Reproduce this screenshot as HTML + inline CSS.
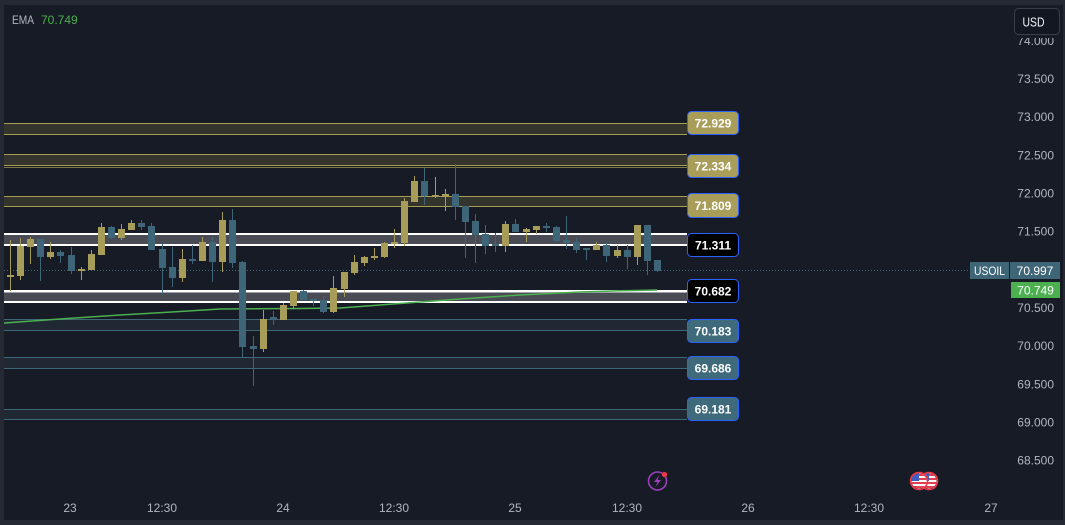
<!DOCTYPE html>
<html>
<head>
<meta charset="utf-8">
<style>
  html,body{margin:0;padding:0;background:#252934;}
  svg{display:block;}
  text{font-family:"Liberation Sans",sans-serif;}
</style>
</head>
<body>
<svg width="1065" height="525" viewBox="0 0 1065 525" xmlns="http://www.w3.org/2000/svg">
  <defs>
    <clipPath id="c1"><circle cx="929" cy="481" r="7.5"/></clipPath>
    <clipPath id="c2"><circle cx="919" cy="481" r="7.5"/></clipPath>
  </defs>
  <!-- frame -->
  <rect x="0" y="0" width="1065" height="525" fill="#252934"/>
  <rect x="4" y="5" width="1059" height="515" fill="#171b26"/>

  <!-- zones -->
  <g shape-rendering="crispEdges">
    <rect x="4" y="123" width="683" height="11" fill="#33342e"/>
    <rect x="4" y="123" width="683" height="1" fill="#a89e52"/>
    <rect x="4" y="134" width="683" height="1" fill="#a89e52"/>

    <rect x="4" y="154" width="683" height="12" fill="#33342e"/>
    <rect x="4" y="154" width="683" height="1" fill="#a89e52"/>
    <rect x="4" y="165" width="683" height="1" fill="#a89e52"/>
    <rect x="4" y="167" width="683" height="1" fill="#7d7645"/>

    <rect x="4" y="196" width="683" height="11" fill="#33342e"/>
    <rect x="4" y="196" width="683" height="1" fill="#a89e52"/>
    <rect x="4" y="206" width="683" height="1" fill="#a89e52"/>

    <rect x="4" y="233" width="683" height="12" fill="#4a4c55"/>
    <rect x="4" y="233" width="683" height="2" fill="#ffffff"/>
    <rect x="4" y="244" width="683" height="2" fill="#ffffff"/>

    <rect x="4" y="290" width="683" height="12" fill="#4a4c55"/>
    <rect x="4" y="290" width="683" height="2" fill="#ffffff"/>
    <rect x="4" y="292" width="683" height="1" fill="#a0a2a8"/>
    <rect x="4" y="301" width="683" height="2" fill="#ffffff"/>

    <rect x="4" y="319" width="683" height="12" fill="#1f2833"/>
    <rect x="4" y="319" width="683" height="1" fill="#3e6878"/>
    <rect x="4" y="330" width="683" height="1" fill="#3e6878"/>

    <rect x="4" y="357" width="683" height="12" fill="#1f2833"/>
    <rect x="4" y="357" width="683" height="1" fill="#3e6878"/>
    <rect x="4" y="368" width="683" height="1" fill="#3e6878"/>

    <rect x="4" y="409" width="683" height="11" fill="#1f2833"/>
    <rect x="4" y="409" width="683" height="1" fill="#3e6878"/>
    <rect x="4" y="419" width="683" height="1" fill="#3e6878"/>
  </g>

  <!-- dotted last price line -->
  <line x1="4" y1="270.5" x2="968" y2="270.5" stroke="#3f6677" stroke-width="1" stroke-dasharray="1 2"/>

  <!-- EMA -->
  <polyline fill="none" stroke="#4caf50" stroke-width="1.5" points="4,323 60,319 120,315 180,311.5 220,309 300,308.5 340,308 400,303.5 460,299 520,295 580,292 620,290.8 657,290"/>

  <!-- candles -->
  <g shape-rendering="crispEdges">
    <g fill="#a89d58">
      <rect x="10" y="240" width="1" height="51"/><rect x="7" y="275" width="7" height="2"/>
      <rect x="20" y="238" width="1" height="42"/><rect x="17" y="246" width="7" height="30"/>
      <rect x="30" y="237" width="1" height="27"/><rect x="27" y="239" width="7" height="8"/>
      <rect x="50" y="242" width="1" height="17"/><rect x="47" y="252" width="7" height="5"/>
      <rect x="81" y="267" width="1" height="13"/><rect x="78" y="269" width="7" height="2"/>
      <rect x="91" y="250" width="1" height="20"/><rect x="88" y="254" width="7" height="16"/>
      <rect x="101" y="223" width="1" height="32"/><rect x="98" y="227" width="7" height="28"/>
      <rect x="121" y="224" width="1" height="16"/><rect x="118" y="229" width="7" height="9"/>
      <rect x="131" y="220" width="1" height="10"/><rect x="128" y="223" width="7" height="7"/>
      <rect x="182" y="249" width="1" height="33"/><rect x="179" y="259" width="7" height="19"/>
      <rect x="202" y="237" width="1" height="24"/><rect x="199" y="242" width="7" height="19"/>
      <rect x="222" y="212" width="1" height="60"/><rect x="219" y="220" width="7" height="42"/>
      <rect x="263" y="310" width="1" height="42"/><rect x="260" y="319" width="7" height="30"/>
      <rect x="283" y="303" width="1" height="17"/><rect x="280" y="305" width="7" height="15"/>
      <rect x="293" y="291" width="1" height="18"/><rect x="290" y="291" width="7" height="15"/>
      <rect x="333" y="276" width="1" height="37"/><rect x="330" y="288" width="7" height="24"/>
      <rect x="344" y="272" width="1" height="25"/><rect x="341" y="272" width="7" height="17"/>
      <rect x="354" y="255" width="1" height="20"/><rect x="351" y="262" width="7" height="11"/>
      <rect x="364" y="256" width="1" height="10"/><rect x="361" y="257" width="7" height="6"/>
      <rect x="374" y="248" width="1" height="12"/><rect x="371" y="256" width="7" height="2"/>
      <rect x="384" y="242" width="1" height="16"/><rect x="381" y="243" width="7" height="14"/>
      <rect x="394" y="229" width="1" height="19"/><rect x="391" y="242" width="7" height="2"/>
      <rect x="404" y="198" width="1" height="48"/><rect x="401" y="201" width="7" height="42"/>
      <rect x="414" y="176" width="1" height="26"/><rect x="411" y="181" width="7" height="21"/>
      <rect x="435" y="177" width="1" height="21"/><rect x="432" y="195" width="7" height="2"/>
      <rect x="445" y="189" width="1" height="22"/><rect x="442" y="194" width="7" height="2"/>
      <rect x="505" y="221" width="1" height="31"/><rect x="502" y="224" width="7" height="22"/>
      <rect x="526" y="228" width="1" height="14"/><rect x="523" y="229" width="7" height="3"/>
      <rect x="536" y="226" width="1" height="8"/><rect x="533" y="226" width="7" height="4"/>
      <rect x="596" y="242" width="1" height="8"/><rect x="593" y="245" width="7" height="5"/>
      <rect x="617" y="245" width="1" height="13"/><rect x="614" y="250" width="7" height="6"/>
      <rect x="637" y="225" width="1" height="40"/><rect x="634" y="225" width="7" height="32"/>
    </g>
    <g fill="#3f6678">
      <rect x="40" y="239" width="1" height="42"/><rect x="37" y="239" width="7" height="18"/>
      <rect x="60" y="250" width="1" height="13"/><rect x="57" y="252" width="7" height="4"/>
      <rect x="71" y="247" width="1" height="27"/><rect x="68" y="255" width="7" height="16"/>
      <rect x="111" y="226" width="1" height="13"/><rect x="108" y="227" width="7" height="11"/>
      <rect x="141" y="220" width="1" height="10"/><rect x="138" y="223" width="7" height="4"/>
      <rect x="151" y="223" width="1" height="27"/><rect x="148" y="226" width="7" height="24"/>
      <rect x="162" y="243" width="1" height="51"/><rect x="159" y="249" width="7" height="19"/>
      <rect x="172" y="247" width="1" height="40"/><rect x="169" y="267" width="7" height="11"/>
      <rect x="192" y="245" width="1" height="19"/><rect x="189" y="259" width="7" height="2"/>
      <rect x="212" y="237" width="1" height="45"/><rect x="209" y="242" width="7" height="20"/>
      <rect x="232" y="209" width="1" height="59"/><rect x="229" y="220" width="7" height="43"/>
      <rect x="242" y="261" width="1" height="96"/><rect x="239" y="262" width="7" height="85"/>
      <rect x="253" y="336" width="1" height="50"/><rect x="250" y="346" width="7" height="3"/>
      <rect x="273" y="311" width="1" height="14"/><rect x="270" y="317" width="7" height="2"/>
      <rect x="303" y="290" width="1" height="10"/><rect x="300" y="291" width="7" height="9"/>
      <rect x="313" y="299" width="1" height="7"/><rect x="310" y="299" width="7" height="2"/>
      <rect x="323" y="296" width="1" height="17"/><rect x="320" y="300" width="7" height="12"/>
      <rect x="424" y="168" width="1" height="37"/><rect x="421" y="181" width="7" height="15"/>
      <rect x="455" y="164" width="1" height="56"/><rect x="452" y="194" width="7" height="13"/>
      <rect x="465" y="206" width="1" height="52"/><rect x="462" y="206" width="7" height="16"/>
      <rect x="475" y="214" width="1" height="49"/><rect x="472" y="221" width="7" height="14"/>
      <rect x="485" y="225" width="1" height="29"/><rect x="482" y="234" width="7" height="12"/>
      <rect x="495" y="233" width="1" height="19"/><rect x="492" y="244" width="7" height="2"/>
      <rect x="515" y="219" width="1" height="13"/><rect x="512" y="224" width="7" height="8"/>
      <rect x="546" y="223" width="1" height="9"/><rect x="543" y="226" width="7" height="2"/>
      <rect x="556" y="226" width="1" height="16"/><rect x="553" y="227" width="7" height="14"/>
      <rect x="566" y="216" width="1" height="33"/><rect x="563" y="240" width="7" height="3"/>
      <rect x="576" y="238" width="1" height="15"/><rect x="573" y="242" width="7" height="8"/>
      <rect x="586" y="248" width="1" height="12"/><rect x="583" y="248" width="7" height="2"/>
      <rect x="606" y="242" width="1" height="20"/><rect x="603" y="245" width="7" height="11"/>
      <rect x="627" y="245" width="1" height="24"/><rect x="624" y="250" width="7" height="7"/>
      <rect x="647" y="225" width="1" height="50"/><rect x="644" y="225" width="7" height="36"/>
      <rect x="657" y="260" width="1" height="12"/><rect x="654" y="260" width="7" height="11"/>
    </g>
  </g>

  <!-- zone labels -->
  <g stroke="#2962ff" stroke-width="1">
    <rect x="687.5" y="111.5" width="51" height="23" rx="4" fill="#a99d5a"/>
    <rect x="687.5" y="154.5" width="51" height="23" rx="4" fill="#a99d5a"/>
    <rect x="687.5" y="193.5" width="51" height="24" rx="4" fill="#a99d5a"/>
    <rect x="687.5" y="233.5" width="51" height="23" rx="4" fill="#000000"/>
    <rect x="687.5" y="279.5" width="51" height="23" rx="4" fill="#000000"/>
    <rect x="687.5" y="319.5" width="51" height="23" rx="4" fill="#3f6a7c"/>
    <rect x="687.5" y="356.5" width="51" height="23" rx="4" fill="#3f6a7c"/>
    <rect x="687.5" y="397.5" width="51" height="23" rx="4" fill="#3f6a7c"/>
  </g>
  <g fill="#ffffff" font-size="12" font-weight="bold" text-anchor="middle">
    <text x="713" y="127.5">72.929</text>
    <text x="713" y="170.5">72.334</text>
    <text x="713" y="210">71.809</text>
    <text x="713" y="249.5">71.311</text>
    <text x="713" y="295.5">70.682</text>
    <text x="713" y="335.5">70.183</text>
    <text x="713" y="372.5">69.686</text>
    <text x="713" y="413.5">69.181</text>
  </g>

  <!-- price axis -->
  <g fill="#b2b5be" font-size="12" text-anchor="end">
    <text x="1054" y="45">74.000</text>
    <text x="1054" y="83">73.500</text>
    <text x="1054" y="121">73.000</text>
    <text x="1054" y="159.5">72.500</text>
    <text x="1054" y="197.5">72.000</text>
    <text x="1054" y="235.5">71.500</text>
    <text x="1054" y="312">70.500</text>
    <text x="1054" y="350">70.000</text>
    <text x="1054" y="388.5">69.500</text>
    <text x="1054" y="426.5">69.000</text>
    <text x="1054" y="464.5">68.500</text>
  </g>

  <!-- USD button (with backdrop hiding top of 74.000) -->
  <rect x="1012" y="6" width="50" height="32" fill="#171b26"/>
  <rect x="1014.5" y="8.5" width="45" height="26" rx="4" fill="#131722" stroke="#3a3e49" stroke-width="1"/>
  <text x="1033.5" y="26.5" fill="#f0f3fa" font-size="12.5" text-anchor="middle" textLength="22" lengthAdjust="spacingAndGlyphs">USD</text>

  <!-- last price labels -->
  <rect x="970" y="262" width="39" height="17" fill="#3f6677"/>
  <text x="989.5" y="275" fill="#ffffff" font-size="12" text-anchor="middle" textLength="31" lengthAdjust="spacingAndGlyphs">USOIL</text>
  <rect x="1010" y="262" width="50" height="17" fill="#3f6677"/>
  <text x="1035" y="275" fill="#ffffff" font-size="12" text-anchor="middle">70.997</text>
  <rect x="1011" y="282" width="49" height="16" fill="#4caf50"/>
  <text x="1035.5" y="294.5" fill="#ffffff" font-size="12" text-anchor="middle">70.749</text>

  <!-- EMA legend -->
  <text x="12" y="24" fill="#b2b5be" font-size="12" textLength="22" lengthAdjust="spacingAndGlyphs">EMA</text>
  <text x="41" y="24" fill="#4caf50" font-size="12">70.749</text>

  <!-- time axis -->
  <g fill="#b2b5be" font-size="12" text-anchor="middle">
    <text x="70" y="512">23</text>
    <text x="162" y="512">12:30</text>
    <text x="283" y="512">24</text>
    <text x="394" y="512">12:30</text>
    <text x="515" y="512">25</text>
    <text x="627" y="512">12:30</text>
    <text x="748" y="512">26</text>
    <text x="869" y="512">12:30</text>
    <text x="991" y="512">27</text>
  </g>

  <!-- lightning event icon -->
  <circle cx="657.5" cy="481" r="9" fill="none" stroke="#9c3fbf" stroke-width="1.6"/>
  <path d="M659.5,475 L654,482 L657.5,482 L655.5,487 L661,480 L657.5,480 Z" fill="#9c3fbf"/>
  <circle cx="664.5" cy="474.5" r="2.6" fill="#f23645"/>

  <!-- US flag icons -->
  <g clip-path="url(#c1)">
    <rect x="921" y="473" width="16" height="16" fill="#ffffff"/>
    <rect x="921" y="474" width="16" height="2" fill="#e04050"/>
    <rect x="921" y="478" width="16" height="2" fill="#e04050"/>
    <rect x="921" y="482" width="16" height="2" fill="#e04050"/>
    <rect x="921" y="486" width="16" height="2" fill="#e04050"/>
    <rect x="921" y="473" width="8" height="8" fill="#3d5fc4"/>
  </g>
  <circle cx="929" cy="481" r="8.5" fill="none" stroke="#f23645" stroke-width="1.6"/>
  <g clip-path="url(#c2)">
    <rect x="911" y="473" width="16" height="16" fill="#ffffff"/>
    <rect x="911" y="474" width="16" height="2" fill="#e04050"/>
    <rect x="911" y="478" width="16" height="2" fill="#e04050"/>
    <rect x="911" y="482" width="16" height="2" fill="#e04050"/>
    <rect x="911" y="486" width="16" height="2" fill="#e04050"/>
    <rect x="911" y="473" width="8" height="8" fill="#3d5fc4"/>
  </g>
  <circle cx="919" cy="481" r="8.5" fill="none" stroke="#f23645" stroke-width="1.6"/>
</svg>
</body>
</html>
